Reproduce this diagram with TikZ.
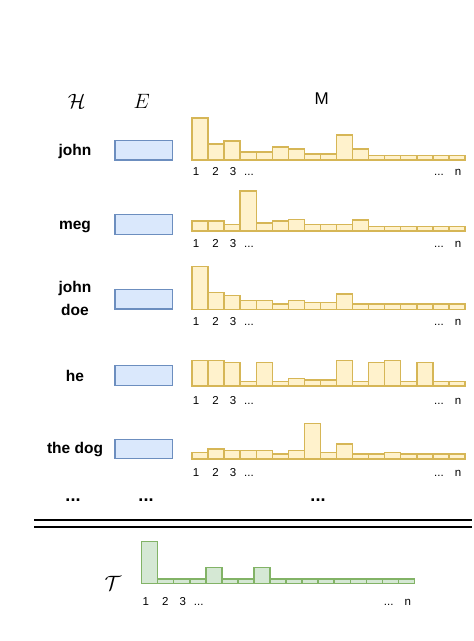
\documentclass[tikz,border=0pt]{standalone}
\usepackage{fontspec}
\setmainfont{Liberation Sans}
\usepackage{amsmath}
\usepackage{tikz}

\definecolor{ylwfill}{HTML}{FFF2CC}
\definecolor{ylwline}{HTML}{D6B656}
\definecolor{bluefill}{HTML}{DAE8FC}
\definecolor{blueline}{HTML}{6C8EBF}
\definecolor{grnfill}{HTML}{D5E8D4}
\definecolor{grnline}{HTML}{82B366}

\tikzset{
  mbar/.style={fill=ylwfill,draw=ylwline,line width=1.4pt},
  tbar/.style={fill=grnfill,draw=grnline,line width=1.4pt},
  emb/.style={fill=bluefill,draw=blueline,line width=1.1pt},
  word/.style={font=\fontsize{15.5}{23}\selectfont\bfseries,align=center,inner sep=0pt},
  tick/.style={font=\fontsize{11.5}{13}\selectfont,inner sep=0pt,anchor=base},
  head/.style={font=\fontsize{20}{24}\selectfont,inner sep=0pt}
}

% name, first bar x, y of the numbers
\newcommand{\tickrow}[3]{
  \node[tick] (#1-1) at (#2+4,#3+4) {1};
  \node[tick] (#1-2) at (#2+23.5,#3+4) {2};
  \node[tick] (#1-3) at (#2+41,#3+4) {3};
  \node[tick] (#1-a) at (#2+57,#3+4) {...};
  \node[tick] (#1-b) at (#2+247,#3+4) {...};
  \node[tick] (#1-n) at (#2+266,#3+4) {n};
}

\begin{document}
\begin{tikzpicture}[x=1pt,y=-1pt]
\useasboundingbox (0,0) rectangle (474,641);

\node[head] (hcal) at (76.7,101.7) {$\mathcal{H}$};
\node[head] (ehead) at (141.7,101.7) {$E$};
\node[font=\fontsize{17}{20}\selectfont,inner sep=0pt] (mhead) at (321.7,99) {M};

\node[word] (w1) at (75,151.7) {john};
\node[word] (w2) at (75,226.7) {meg};
\node[word] (w3) at (75,298.5) {john\\doe};
\node[word] (w4) at (75,376) {he};
\node[word] (w5) at (75,449.3) {the dog};

\node[word,font=\fontsize{18}{20}\selectfont\bfseries] (d1) at (73,500) {...};
\node[word,font=\fontsize{18}{20}\selectfont\bfseries] (d2) at (146,500) {...};
\node[word,font=\fontsize{18}{20}\selectfont\bfseries] (d3) at (318,500) {...};

\foreach \b [count=\r] in {160,234.3,309,385.3,458.7}
  \filldraw[emb] (115,\b) rectangle ++(57.7,-19.5);

\foreach \h [count=\i from 0] in {42,16,19,8,8,13,11,6,6,25,11,4.5,4.5,4.5,4.5,4.5,4.5}
  \filldraw[mbar] (192+\i*16.06,160) rectangle ++(16.06,-\h);
\foreach \h [count=\i from 0] in {10,10,6.7,40,8,10,11.5,6.5,6.5,6.5,11,4.7,4.7,4.7,4.7,4.7,4.7}
  \filldraw[mbar] (192+\i*16.06,231) rectangle ++(16.06,-\h);
\foreach \h [count=\i from 0] in {42.7,17,13.7,8.7,8.7,5.3,8.7,7,7,15.3,5.3,5.3,5.3,5.3,5.3,5.3,5.3}
  \filldraw[mbar] (192+\i*16.06,309.3) rectangle ++(16.06,-\h);
\foreach \h [count=\i from 0] in {25.3,25.3,23.7,4.3,23.7,4.3,7.7,6,6,25.3,4.3,23.7,25.3,4.3,23.7,4.3,4.3}
  \filldraw[mbar] (192+\i*16.06,386) rectangle ++(16.06,-\h);
\foreach \h [count=\i from 0] in {6.7,10,8.3,8.3,8.3,5,8.3,35.7,6.7,15,5,5,6.7,5,5,5,5}
  \filldraw[mbar] (192+\i*16.06,459) rectangle ++(16.06,-\h);

\tickrow{ta}{192}{171}
\tickrow{tb}{192}{243.5}
\tickrow{tc}{192}{321.7}
\tickrow{td}{192}{400.7}
\tickrow{te}{192}{472.7}

\coordinate (l1) at (34,520);
\coordinate (r1) at (471.7,520);
\coordinate (l2) at (34,527);
\coordinate (r2) at (471.7,527);
\draw[line width=1.5pt] (l1) -- (r1);
\draw[line width=1.5pt] (l2) -- (r2);

\node[head] (tcal) at (113,583.3) {$\mathcal{T}$};
\foreach \h [count=\i from 0] in {41.7,4.3,4.3,4.3,16,4.3,4.3,16,4.3,4.3,4.3,4.3,4.3,4.3,4.3,4.3,4.3}
  \filldraw[tbar] (141.7+\i*16.04,583.3) rectangle ++(16.04,-\h);
\tickrow{tt}{141.7}{601.7}
\end{tikzpicture}
\end{document}
